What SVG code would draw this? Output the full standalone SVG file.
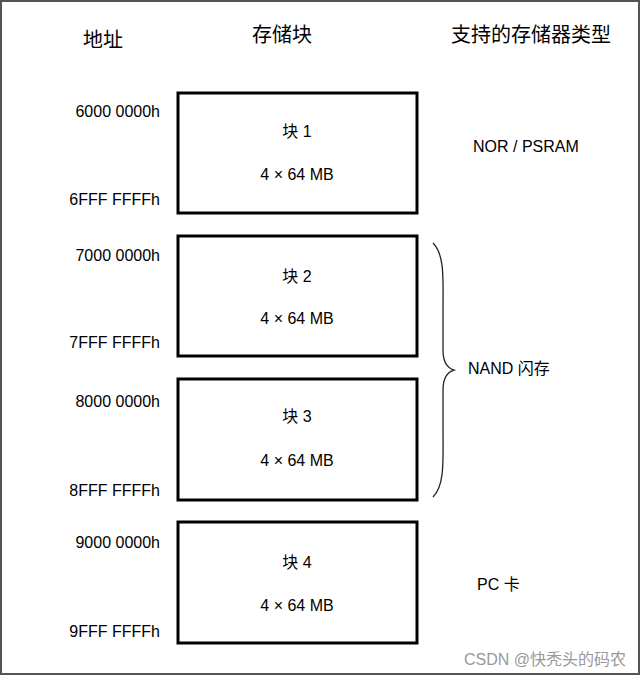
<svg xmlns="http://www.w3.org/2000/svg" width="641" height="676" viewBox="0 0 641 676">
<style>
text{font-family:"Liberation Sans","Noto Sans CJK SC",sans-serif;fill:#000}
.h{font-size:20px;text-anchor:middle}
.a{font-size:16px;text-anchor:end}
.c{font-size:16px;text-anchor:middle}
.t{font-size:16px}
.box{fill:#fff;stroke:#000;stroke-width:3}
</style>
<rect x="0" y="0" width="641" height="676" fill="#fff"/>
<rect x="1" y="1" width="638" height="673" fill="none" stroke="#555" stroke-width="2"/>
<text class="h" x="103" y="47">地址</text>
<text class="h" x="282" y="42">存储块</text>
<text class="h" x="531" y="42">支持的存储器类型</text>
<g id="block1"><rect class="box" x="178" y="93" width="239" height="120"/><text class="c" x="297" y="137">块 1</text><text class="c" x="297" y="180">4 × 64 MB</text></g>
<g id="block2"><rect class="box" x="178" y="236" width="239" height="120"/><text class="c" x="297" y="282">块 2</text><text class="c" x="297" y="324">4 × 64 MB</text></g>
<g id="block3"><rect class="box" x="178" y="379" width="239" height="121"/><text class="c" x="297" y="422">块 3</text><text class="c" x="297" y="466">4 × 64 MB</text></g>
<g id="block4"><rect class="box" x="178" y="522" width="239" height="121"/><text class="c" x="297" y="568">块 4</text><text class="c" x="297" y="611">4 × 64 MB</text></g>
<g id="addresses">
<text class="a" x="160" y="117">6000 0000h</text><text class="a" x="160" y="205">6FFF FFFFh</text>
<text class="a" x="160" y="261">7000 0000h</text><text class="a" x="160" y="348">7FFF FFFFh</text>
<text class="a" x="160" y="407">8000 0000h</text><text class="a" x="160" y="496">8FFF FFFFh</text>
<text class="a" x="160" y="548">9000 0000h</text><text class="a" x="160" y="637">9FFF FFFFh</text>
</g>
<g id="connectors"><path d="M433,243 C445,255 443,280 443,310 L443,350 C443,362 447,368 454,370 C447,372 443,378 443,390 L443,430 C443,460 445,485 433,497" fill="none" stroke="#222" stroke-width="1.3"/></g>
<text class="t" x="473" y="152">NOR /  PSRAM</text>
<text class="t" x="468" y="374">NAND 闪存</text>
<text class="t" x="477" y="590">PC 卡</text>
<text x="626" y="665" font-size="16" style="fill:#999;text-anchor:end">CSDN @快秃头的码农</text>
</svg>
